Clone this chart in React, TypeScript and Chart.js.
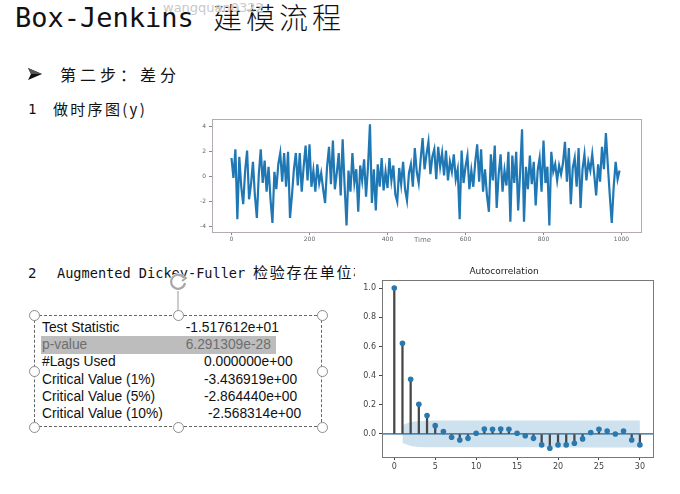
import React, { useEffect, useRef } from "react";
import { Chart, registerables } from "chart.js";

Chart.register(...registerables);

// ---------- time series (differenced y), sampled every 5 time steps ----------
const tsStep = 5;
const tsValues = [
  1.5, -0.1, 2.2, -3.4, 1.6, -0.8, -2.2, 0.5, 2.1, -1.8,
  -0.6, 1.2, -1.5, -3.3, 0.2, 2.2, -0.5, 1.3, -1.2, 0.8,
  -1.8, -3.7, 0.4, -1.0, 1.0, 1.9, -0.4, 1.9, -0.8, 2.0,
  -3.3, -1.5, 0.6, 1.9, -0.7, 1.9, -1.2, 0.8, 2.5, -0.3,
  2.6, -0.8, 0.5, -1.2, 1.0, -0.5, 0.3, -1.0, -2.1, 0.8,
  2.4, -0.6, 2.9, -1.0, 0.3, 1.9, -1.5, 3.0, -0.7, -3.9,
  0.5, -1.2, 1.9, -0.5, 0.6, -2.8, 0.9, -0.3, 1.4, -1.6,
  0.8, 4.2, -2.1, 0.6, -2.7, 1.0, -0.8, 1.5, -1.1, 0.4,
  -0.9, 1.5, -0.3, 0.9, -1.4, -2.0, 0.7, -0.6, 1.2, -1.0,
  -1.9, 0.3, 1.0, -0.8, 2.3, 0.4, -0.5, 1.4, 3.1, 0.6,
  1.8, 2.8, 0.2, 1.6, 2.2, -0.2, 2.4, 0.8, 1.9, 0.1,
  2.1, -0.3, 1.2, 0.4, 1.8, -0.2, 0.6, -3.4, 2.1, -0.5,
  0.8, 1.7, -1.0, 0.5, -0.8, 1.2, 2.6, -0.4, 2.2, -1.2,
  0.6, -1.5, -2.8, 1.8, -0.3, 2.5, -2.5, 0.2, 1.8, -1.2,
  0.5, -0.7, 2.0, -3.6, 1.7, -0.5, 2.0, -2.7, 0.3, 3.8,
  -3.6, 0.8, -1.0, 1.7, -0.6, 1.2, -2.3, 0.5, 1.5, -1.2,
  2.9, -0.5, 0.8, -3.9, 2.0, 0.4, 1.0, -0.3, 0.9, 0.2,
  1.1, 2.8, -0.4, 2.3, -2.2, 0.7, 1.5, -0.8, 2.3, -2.5,
  0.6, 1.8, -0.3, 1.2, 0.5, 1.8, 0.2, -1.5, 1.0, -0.4,
  2.4, 0.6, 3.5, 0.9, -1.5, -3.7, -0.8, 1.2, -0.2, 0.5,
];
const tsXTicks = [0, 200, 400, 600, 800, 1000];
const tsYTicks = [-4, -2, 0, 2, 4];

// ---------- autocorrelation ----------
const acfLags = [0, 1, 2, 3, 4, 5, 6, 7, 8, 9, 10, 11, 12, 13, 14, 15, 16, 17, 18, 19, 20, 21, 22, 23, 24, 25, 26, 27, 28, 29, 30];
const acfValues = [
  1.0, 0.622, 0.375, 0.204, 0.126, 0.057, 0.016, -0.023, -0.041, -0.03,
  0.005, 0.034, 0.032, 0.034, 0.032, 0.005, -0.012, -0.03, -0.075, -0.098,
  -0.075, -0.075, -0.064, -0.034, 0.01, 0.032, 0.02, 0.0, 0.02, -0.041, -0.075,
];
const confLags = [1, 2, 3, 4, 5, 6, 7, 8, 9, 10, 11, 12, 13, 14, 15, 16, 17, 18, 19, 20, 21, 22, 23, 24, 25, 26, 27, 28, 29, 30];
const confUpper = [
  0.062, 0.082, 0.089, 0.091, 0.092, 0.092, 0.092, 0.092, 0.092, 0.092,
  0.092, 0.092, 0.092, 0.092, 0.092, 0.092, 0.092, 0.092, 0.093, 0.093,
  0.093, 0.093, 0.093, 0.093, 0.093, 0.093, 0.093, 0.093, 0.093, 0.093,
];
const acfXTicks = [0, 5, 10, 15, 20, 25, 30];
const acfYTicks = [0.0, 0.2, 0.4, 0.6, 0.8, 1.0];

// ---------- ADF table ----------
const adfLabels = ["Test Statistic", "p-value", "#Lags Used", "Critical Value (1%)", "Critical Value (5%)", "Critical Value (10%)"];
const adfValues = ["-1.517612e+01", "6.291309e-28", "0.000000e+00", "-3.436919e+00", "-2.864440e+00", "-2.568314e+00"];

const framePlugin = (color: string) => ({
  id: "frame",
  afterDatasetsDraw(chart: any) {
    const { ctx, chartArea } = chart;
    const { left, top, right, bottom } = chartArea;
    ctx.save();
    ctx.strokeStyle = color;
    ctx.lineWidth = 1;
    ctx.strokeRect(Math.round(left) + 0.5, Math.round(top) + 0.5, Math.round(right - left), Math.round(bottom - top));
    ctx.restore();
  },
});

const zeroLinePlugin = {
  id: "zeroLine",
  beforeDatasetsDraw(chart: any) {
    const { ctx, chartArea } = chart;
    const y = chart.scales.y.getPixelForValue(0);
    ctx.save();
    ctx.strokeStyle = "#1f5f8f";
    ctx.lineWidth = 1.2;
    ctx.beginPath();
    ctx.moveTo(chartArea.left, y);
    ctx.lineTo(chartArea.right, y);
    ctx.stroke();
    ctx.restore();
  },
};

function TimeSeriesChart() {
  const ref = useRef<HTMLCanvasElement>(null);
  useEffect(() => {
    const data = tsValues.map((v, i) => ({ x: i * tsStep, y: v }));
    const chart = new Chart(ref.current!, {
      type: "line",
      data: {
        datasets: [
          {
            data,
            borderColor: "#1f77b4",
            borderWidth: 2.2,
            pointRadius: 0,
            tension: 0,
          },
        ],
      },
      options: {
        animation: false,
        responsive: false,
        events: [],
        layout: { padding: { top: 9, right: 9, left: 0, bottom: 0 } },
        plugins: { legend: { display: false }, tooltip: { enabled: false } },
        scales: {
          x: {
            type: "linear",
            min: -50,
            max: 1050,
            offset: false,
            afterBuildTicks: (s: any) => {
              s.ticks = tsXTicks.map((v) => ({ value: v }));
            },
            afterFit: (s: any) => {
              s.height = 18;
            },
            ticks: {
              autoSkip: false,
              maxRotation: 0,
              padding: 1,
              color: "#666",
              font: { size: 6, family: "DejaVu Sans" },
              callback: (v: any) => String(v),
            },
            grid: { drawOnChartArea: false, drawTicks: true, tickLength: 3, color: "#888" },
            border: { display: false },
          },
          y: {
            type: "linear",
            min: -4.42,
            max: 4.62,
            afterBuildTicks: (s: any) => {
              s.ticks = tsYTicks.map((v) => ({ value: v }));
            },
            afterFit: (s: any) => {
              s.width = 22;
            },
            ticks: {
              autoSkip: false,
              padding: 3,
              color: "#666",
              font: { size: 6, family: "DejaVu Sans" },
              callback: (v: any) => String(v),
            },
            grid: { drawOnChartArea: false, drawTicks: true, tickLength: 3, color: "#888" },
            border: { display: false },
          },
        },
      },
      plugins: [framePlugin("#b4aab4")],
    });
    return () => chart.destroy();
  }, []);
  return <canvas ref={ref} width={460} height={140} style={{ position: "absolute", left: 190, top: 110, width: 460, height: 140 }} />;
}

function AcfChart() {
  const ref = useRef<HTMLCanvasElement>(null);
  useEffect(() => {
    const pts = acfLags.map((l, i) => ({ x: l, y: acfValues[i] }));
    const up = confLags.map((l, i) => ({ x: l, y: confUpper[i] }));
    const lo = confLags.map((l, i) => ({ x: l, y: -confUpper[i] }));
    const chart = new Chart(ref.current!, {
      type: "line",
      data: {
        datasets: [
          {
            type: "line",
            data: up,
            fill: "+1",
            backgroundColor: "rgba(31,119,180,0.22)",
            borderWidth: 0,
            pointRadius: 0,
            order: 5,
          } as any,
          {
            type: "line",
            data: lo,
            fill: false,
            borderWidth: 0,
            pointRadius: 0,
            order: 5,
          } as any,
          {
            type: "bar",
            data: pts,
            backgroundColor: "#474747",
            barThickness: 1.6,
            order: 2,
          } as any,
          {
            type: "line",
            data: pts,
            showLine: false,
            pointRadius: 2.8,
            pointBackgroundColor: "#2a78ad",
            pointBorderColor: "#2a78ad",
            pointBorderWidth: 0,
            order: 1,
          } as any,
        ],
      },
      options: {
        animation: false,
        responsive: false,
        events: [],
        layout: { padding: { top: 0, right: 7, left: 0, bottom: 0 } },
        plugins: {
          legend: { display: false },
          tooltip: { enabled: false },
          title: {
            display: true,
            text: "Autocorrelation",
            color: "#222",
            font: { size: 9, family: "DejaVu Sans", weight: "normal" },
            padding: { top: 4, bottom: 3 },
          },
        },
        scales: {
          x: {
            type: "linear",
            min: -1.5,
            max: 31.6,
            offset: false,
            afterBuildTicks: (s: any) => {
              s.ticks = acfXTicks.map((v) => ({ value: v }));
            },
            afterFit: (s: any) => {
              s.height = 19;
            },
            ticks: {
              autoSkip: false,
              maxRotation: 0,
              padding: 2,
              color: "#444",
              font: { size: 8, family: "DejaVu Sans" },
              callback: (v: any) => String(v),
            },
            grid: { drawOnChartArea: false, drawTicks: true, tickLength: 3, color: "#444", offset: false },
            border: { display: false },
          },
          y: {
            type: "linear",
            min: -0.158,
            max: 1.057,
            afterBuildTicks: (s: any) => {
              s.ticks = acfYTicks.map((v) => ({ value: v }));
            },
            afterFit: (s: any) => {
              s.width = 27;
            },
            ticks: {
              autoSkip: false,
              padding: 3,
              color: "#444",
              font: { size: 8, family: "DejaVu Sans" },
              callback: (v: any) => Number(v).toFixed(1),
            },
            grid: { drawOnChartArea: false, drawTicks: true, tickLength: 3, color: "#444" },
            border: { display: false },
          },
        },
      },
      plugins: [zeroLinePlugin, framePlugin("#777")],
    });
    return () => chart.destroy();
  }, []);
  return (
    <div style={{ position: "absolute", left: 355, top: 262, width: 305, height: 214, background: "#fff" }}>
      <canvas ref={ref} width={305} height={214} style={{ width: 305, height: 214, display: "block" }} />
    </div>
  );
}

const handlePos = [
  [34, 315], [178, 315], [322, 315],
  [34, 371], [322, 371],
  [34, 427], [178, 427], [322, 427],
];
const rowCenters = [327.7, 345, 362.3, 380, 397.3, 414.3];
const valueLeft = [185.7, 185.7, 204, 204, 204, 208];

export default function App() {
  const cjk = '"Noto Sans CJK SC", sans-serif';
  const mono = '"DejaVu Sans Mono", monospace';
  return (
    <div style={{ position: "absolute", left: 0, top: 0, width: 680, height: 494, background: "#fff", overflow: "hidden", color: "#111" }}>
      {/* title */}
      <div style={{ position: "absolute", left: 15, top: 4, fontFamily: mono, fontSize: 27, lineHeight: "27px", whiteSpace: "nowrap" }}>Box-Jenkins</div>
      <div style={{ position: "absolute", left: 213, top: 1, fontFamily: cjk, fontSize: 29, lineHeight: "30px", letterSpacing: 4, whiteSpace: "nowrap", fontWeight: 300 }}>建模流程</div>
      <div style={{ position: "absolute", left: 163, top: 1, fontFamily: '"DejaVu Sans", sans-serif', fontSize: 13, lineHeight: "14px", color: "#c9c9c9", textShadow: "0 0 1px #fff, 0 0 1px #fff", whiteSpace: "nowrap" }}>wangquan0322</div>

      {/* step bullet */}
      <svg style={{ position: "absolute", left: 28, top: 68 }} width={15} height={12}>
        <polygon points="0,0 14,6 0,12 3,6" fill="#111" />
        <polygon points="0,0 14,6 3,6" fill="#555" />
      </svg>
      <div style={{ position: "absolute", left: 60, top: 63, fontFamily: cjk, fontSize: 16, lineHeight: "22px", letterSpacing: 4, whiteSpace: "nowrap" }}>第二步：差分</div>

      {/* item 1 */}
      <div style={{ position: "absolute", left: 28, top: 99, fontFamily: mono, fontSize: 14, lineHeight: "20px" }}>1</div>
      <div style={{ position: "absolute", left: 53, top: 98, fontFamily: cjk, fontSize: 15, lineHeight: "22px", letterSpacing: 2.3, whiteSpace: "nowrap" }}>做时序图(y)</div>

      {/* item 2 */}
      <div style={{ position: "absolute", left: 28, top: 263, fontFamily: mono, fontSize: 14, lineHeight: "20px" }}>2</div>
      <div style={{ position: "absolute", left: 57, top: 263, fontFamily: mono, fontSize: 13.6, lineHeight: "20px", whiteSpace: "nowrap" }}>Augmented Dickey-Fuller</div>
      <div style={{ position: "absolute", left: 253, top: 261, fontFamily: cjk, fontSize: 15, lineHeight: "22px", letterSpacing: 1.7, whiteSpace: "nowrap" }}>检验存在单位根：</div>

      {/* rotation handle */}
      <svg style={{ position: "absolute", left: 168, top: 272, overflow: "visible" }} width={22} height={42}>
        <circle cx={10} cy={10} r={9} fill="#fff" />
        <path d="M 16 6 A 7 7 0 1 0 17 11" fill="none" stroke="#a8a8a8" strokeWidth={2.2} />
        <path d="M 13 3 L 18 6 L 14 9" fill="none" stroke="#a8a8a8" strokeWidth={1.8} />
        <line x1={10} y1={19} x2={10} y2={38} stroke="#999" strokeWidth={1} />
      </svg>

      {/* ADF table box */}
      <div style={{ position: "absolute", left: 34, top: 315, width: 288, height: 112, border: "1px dashed #666", boxSizing: "border-box" }} />
      <div style={{ position: "absolute", left: 41, top: 336, width: 235, height: 17.5, background: "#bdbdbd" }} />
      {adfLabels.map((lab, i) => (
        <React.Fragment key={lab}>
          <div style={{ position: "absolute", left: 42, top: rowCenters[i] - 9, fontFamily: '"Liberation Sans", Arial, sans-serif', fontSize: 13.8, lineHeight: "18px", whiteSpace: "nowrap", color: i === 1 ? "#6e6e6e" : "#111" }}>{lab}</div>
          <div style={{ position: "absolute", left: valueLeft[i], top: rowCenters[i] - 9, fontFamily: '"Liberation Sans", Arial, sans-serif', fontSize: 13.8, lineHeight: "18px", whiteSpace: "nowrap", color: i === 1 ? "#6e6e6e" : "#111" }}>{adfValues[i]}</div>
        </React.Fragment>
      ))}
      {handlePos.map(([x, y], i) => (
        <div key={i} style={{ position: "absolute", left: x - 5.5, top: y - 5.5, width: 11, height: 11, borderRadius: "50%", background: "#fff", border: "1px solid #8c8c8c", boxSizing: "border-box" }} />
      ))}

      {/* charts */}
      <TimeSeriesChart />
      <div style={{ position: "absolute", left: 414, top: 236, fontFamily: '"DejaVu Sans", sans-serif', fontSize: 7, lineHeight: "8px", color: "#777" }}>Time</div>
      <AcfChart />
    </div>
  );
}
